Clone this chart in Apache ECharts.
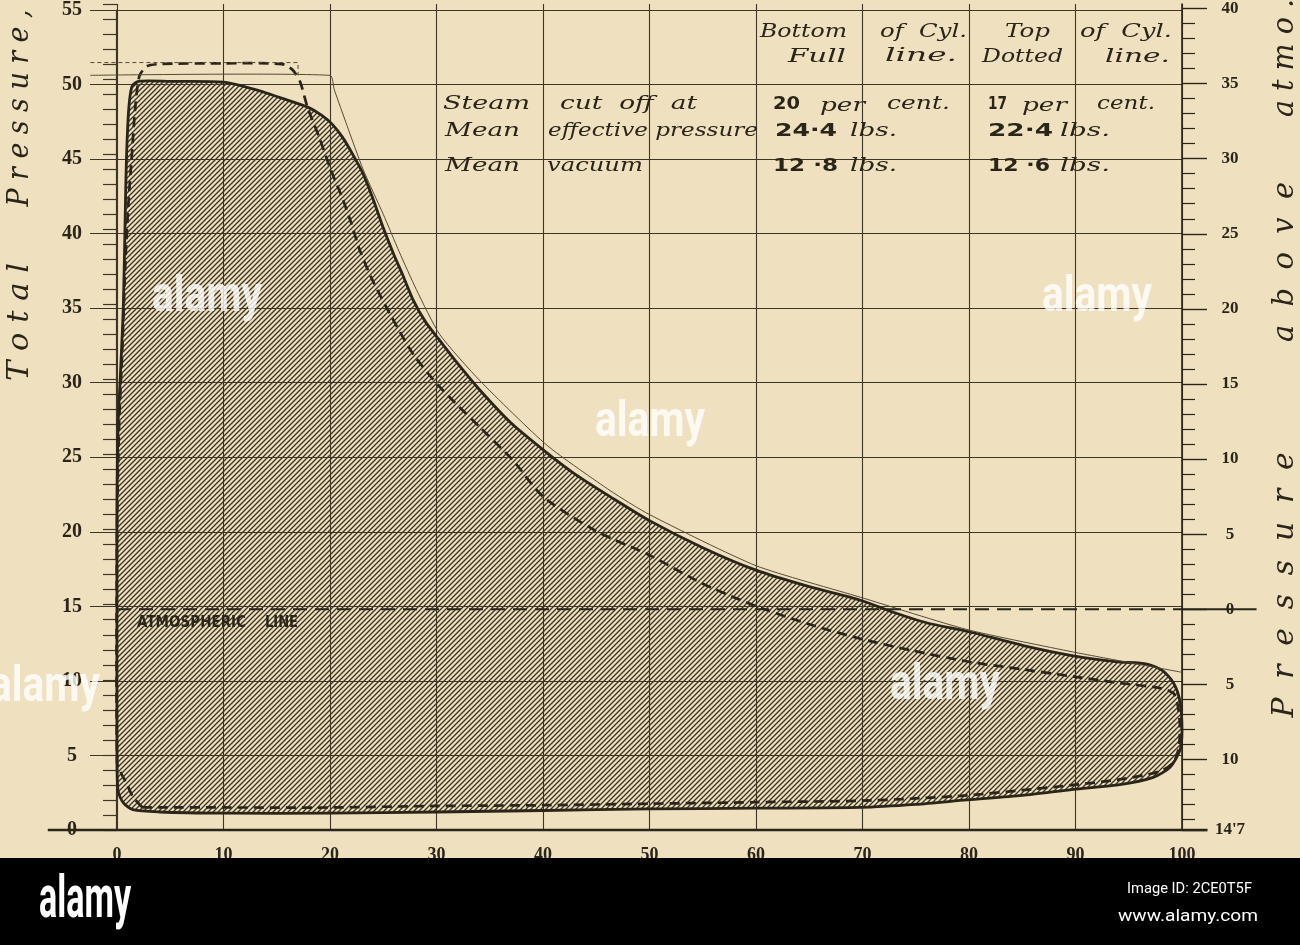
<!DOCTYPE html>
<html>
<head>
<meta charset="utf-8">
<script src="https://cdn.jsdelivr.net/npm/echarts@6/dist/echarts.min.js"></script>
<style>
  html, body { margin: 0; padding: 0; background: #efe1bf; }
  #chart { width: 1300px; height: 945px; }
</style>
</head>
<body>
<div id="chart"></div>
<script>
// Bottom of cylinder, full line (stroke %, total pressure lbs)
const fullX = [0.6,0.1,0,0,0,0.1,0.3,0.6,0.8,0.9,1.1,1.4,2,5,10,13,16,18,19.2,20.2,21.2,22.2,23.1,24,25,26,26.8,27.8,29,30.3,32,34,37,40.4,43,46.3,50,55,60,65,69.8,72.9,76,80,85,89.8,94,96.7,98.2,99.2,99.8,100,99.8,98.9,97.3,94,89.8,85,79.8,75,69.8,60,50,40,30,20,10,4,1.5];
const fullY = [1.8,2.6,5,15,22,27,30,35,42,45,48,49.5,49.85,49.85,49.8,49.3,48.6,48.1,47.6,47,46.1,44.9,43.7,42.1,40.1,38.3,37,35.3,33.8,32.6,31.05,29.35,27.1,25.1,23.7,22.2,20.6,18.8,17.3,16.2,15.3,14.5,13.8,13.2,12.3,11.6,11.2,11.05,10.6,9.8,8.6,6.6,5.3,4.2,3.5,3.0,2.7,2.3,2.0,1.7,1.5,1.45,1.4,1.3,1.2,1.12,1.12,1.2,1.35];

// Top of cylinder, dotted line
const dotX = [2.4,1.5,0.9,0.3,0,0,0.2,0.5,0.8,1.1,1.4,1.7,2.1,2.8,4,10,15.5,16.5,17.2,17.9,19,20,21.2,22,22.8,24,25.6,27.8,30.3,34.1,37.2,40,45,50,55,60,65,70,75,80,85,90,94,97.9,99.2,99.6,99.8,99.7,99.2,97.9,94,89.8,85,79.8,75,70,60,50,40,30,20,10,4];
const dotY = [1.5,2.2,3.1,3.9,4.5,20,27,32,38,42,45,48,50.2,50.85,51.0,51.05,51.0,50.6,49.8,48.1,46.1,44.1,42.0,40.4,38.6,36.6,34.4,31.7,29.5,26.8,24.6,22.2,19.9,18.3,16.4,14.9,13.7,12.7,11.9,11.2,10.7,10.2,9.8,9.45,9.1,8.3,7.0,5.5,4.5,3.9,3.35,3.0,2.65,2.3,2.1,1.95,1.85,1.75,1.65,1.6,1.5,1.5,1.5];

// thin theoretical curve
const theoX = [-2.5,20,20.4,21.6,23.1,25,26.5,28.1,30.3,34.1,40.4,46.3,50,60,69.8,79.8,89.8,100];
const theoY = [50.25,50.25,49.3,46.9,44.0,41.0,38.5,36.0,33.0,29.9,25.6,22.6,21.0,17.6,15.5,13.35,11.85,10.5];

// thin dashed admission line
const admitX = [-2.5, 17, 17];
const admitY = [51.1, 51.1, 50.25];

const atmX = [0, 100];
const atmY = [14.7, 14.7];
const atmExtX = [100, 107];
const baseX = [-6.5, 102.4];
const baseY = [0, 0];

// right scale: pressure above atmosphere, placed on total-pressure scale
const rightTickValues = [0, 4.7, 9.7, 14.7, 19.7, 24.7, 29.7, 34.7, 39.7, 44.7, 49.7, 54.7];
const rightTickLabels = ["14'7", '10', '5', '0', '5', '10', '15', '20', '25', '30', '35', '40'];

const ink = '#2a2419';
const gridInk = '#3d3526';

function zip(xs, ys) { return xs.map((x, i) => [x, ys[i]]); }

function hatch() {
  const c = document.createElement('canvas');
  c.width = 5; c.height = 5;
  const g = c.getContext('2d');
  g.strokeStyle = '#3b3325';
  g.lineWidth = 1.35;
  g.beginPath();
  g.moveTo(0, 5); g.lineTo(5, 0);
  g.moveTo(-1, 1); g.lineTo(1, -1);
  g.moveTo(4, 6); g.lineTo(6, 4);
  g.stroke();
  return c;
}

const measure = document.createElement('canvas').getContext('2d');
function fitText(text, x, y, w, font, extra) {
  measure.font = font;
  const m = measure.measureText(text).width || 1;
  const align = (extra && extra.align) || 'left';
  const el = {
    type: 'text', x: x, y: y, scaleX: w / m, z: 10,
    rotation: (extra && extra.rotation) || 0,
    style: {
      text: text, font: font, fill: (extra && extra.fill) || ink,
      align: align, textAlign: align,
      verticalAlign: 'middle', textVerticalAlign: 'middle'
    }
  };
  if (extra && extra.z) el.z = extra.z;
  return el;
}

// polyline through data points, drawn with the axis scales, not clipped to the grid
function pathSeries(points, style, smooth, z) {
  return {
    type: 'custom', xAxisIndex: 1, yAxisIndex: 1, silent: true, animation: false,
    clip: false, z: z || 4, data: points,
    renderItem: function (params, api) {
      if (params.dataIndex !== 0) return null;
      return {
        type: 'polyline',
        shape: { points: points.map(p => api.coord(p)), smooth: smooth || 0 },
        style: Object.assign({ fill: null, stroke: ink }, style)
      };
    }
  };
}

const script = 'italic 19px "DejaVu Serif"';
const num = 'bold 18px "DejaVu Sans"';
const rightMinor = [];
rightTickValues.slice(1).forEach(v => {
  for (let k = 1; k <= 4; k++) rightMinor.push(+(v - k).toFixed(1));
});

const fullPts = zip(fullX, fullY);
const dotPts = zip(dotX, dotY);
dotPts.push(dotPts[0]);

const chart = echarts.init(document.getElementById('chart'));
const hatchPattern = { image: hatch(), repeat: 'repeat' };

const graphics = [
  // table
  fitText('Bottom', 760, 32, 87, script),
  fitText('Full', 788, 57, 58, script),
  fitText('of  Cyl.', 880, 32, 87, script),
  fitText('line.', 885, 56, 72, script),
  fitText('Top', 1005, 32, 45, script),
  fitText('Dotted', 982, 57, 81, script),
  fitText('of  Cyl.', 1080, 32, 92, script),
  fitText('line.', 1105, 57, 65, script),
  fitText('Steam', 443, 104, 87, script),
  fitText('cut  off  at', 560, 104, 137, script),
  fitText('20', 773, 104, 27, num),
  fitText('per', 820, 106, 45, script),
  fitText('cent.', 887, 104, 63, script),
  fitText('17', 988, 104, 19, num),
  fitText('per', 1022, 106, 45, script),
  fitText('cent.', 1097, 104, 58, script),
  fitText('Mean', 445, 131, 75, script),
  fitText('effective pressure', 548, 131, 210, script),
  fitText('24·4', 775, 131, 62, num),
  fitText('lbs.', 850, 131, 47, script),
  fitText('22·4', 988, 131, 65, num),
  fitText('lbs.', 1060, 131, 50, script),
  fitText('Mean', 445, 166, 75, script),
  fitText('vacuum', 547, 166, 96, script),
  fitText('12 ·8', 773, 166, 65, num),
  fitText('lbs.', 850, 166, 47, script),
  fitText('12 ·6', 988, 166, 62, num),
  fitText('lbs.', 1060, 166, 50, script),
  // atmospheric label
  fitText('ATMOSPHERIC', 137, 623, 109, 'bold 15px "DejaVu Sans"'),
  fitText('LINE', 265, 623, 33, 'bold 15px "DejaVu Sans"'),
  // axis titles
  fitText('T o t a l', 20, 322, 118, 'italic 30px "DejaVu Serif"', { align: 'center', rotation: Math.PI / 2 }),
  fitText('P r e s s u r e ,', 20, 108, 197, 'italic 30px "DejaVu Serif"', { align: 'center', rotation: Math.PI / 2 }),
  fitText('P  r  e  s  s  u  r  e', 1285, 585, 265, 'italic 30px "DejaVu Serif"', { align: 'center', rotation: Math.PI / 2 }),
  fitText('a  b  o  v  e', 1285, 262, 160, 'italic 30px "DejaVu Serif"', { align: 'center', rotation: Math.PI / 2 }),
  fitText('a t m o .', 1285, 58, 118, 'italic 30px "DejaVu Serif"', { align: 'center', rotation: Math.PI / 2 }),
  // watermark overlays
  fitText('alamy', 207, 298, 110, 'bold 50px Roboto', { align: 'center', fill: 'rgba(255,255,255,0.8)', z: 90 }),
  fitText('alamy', 1097, 298, 110, 'bold 50px Roboto', { align: 'center', fill: 'rgba(255,255,255,0.8)', z: 90 }),
  fitText('alamy', 650, 423, 110, 'bold 50px Roboto', { align: 'center', fill: 'rgba(255,255,255,0.8)', z: 90 }),
  fitText('alamy', 45, 688, 110, 'bold 50px Roboto', { align: 'center', fill: 'rgba(255,255,255,0.8)', z: 90 }),
  fitText('alamy', 945, 686, 110, 'bold 50px Roboto', { align: 'center', fill: 'rgba(255,255,255,0.8)', z: 90 }),
  // banner
  { type: 'rect', z: 100, shape: { x: 0, y: 858, width: 1300, height: 87 }, style: { fill: '#000' } },
  fitText('alamy', 85, 902, 92, 'bold 60px Roboto', { align: 'center', fill: '#fff', z: 101 }),
  fitText('Image ID: 2CE0T5F', 1252, 889, 125, '15px Roboto', { align: 'right', fill: '#fff', z: 101 }),
  fitText('www.alamy.com', 1258, 917, 140, '17px Roboto', { align: 'right', fill: '#fff', z: 101 })
];

const axisFont = { color: ink, fontFamily: 'Liberation Serif', fontWeight: 'bold' };

chart.setOption({
  backgroundColor: '#efe1bf',
  animation: false,
  grid: [
    { left: 90, right: 118, top: 2.8, bottom: 115 },
    { left: 117, right: 118, top: 2.8, bottom: 115 }
  ],
  xAxis: [
    { gridIndex: 0, type: 'value', min: -2.5, max: 100, show: false },
    {
      gridIndex: 1, type: 'value', min: 0, max: 100, interval: 10,
      axisLine: { show: false }, axisTick: { show: false },
      axisLabel: Object.assign({ margin: 16, fontSize: 18 }, axisFont),
      splitLine: { show: true, lineStyle: { color: gridInk, width: 1.1 } }
    }
  ],
  yAxis: [
    {
      gridIndex: 0, type: 'value', min: 0, max: 55, interval: 5, position: 'left',
      axisLine: { show: true, lineStyle: { color: gridInk, width: 1.2 } },
      axisTick: { show: false },
      axisLabel: Object.assign({ margin: 18, align: 'center', fontSize: 20 }, axisFont),
      splitLine: { show: true, lineStyle: { color: gridInk, width: 1.1 } }
    },
    {
      gridIndex: 1, type: 'value', min: 0, max: 55, interval: 5, position: 'left',
      axisLine: { show: false },
      axisTick: { show: true, length: 14, lineStyle: { color: gridInk, width: 1.2 } },
      minorTick: { show: true, splitNumber: 5, length: 14, lineStyle: { color: gridInk, width: 1.2 } },
      axisLabel: { show: false },
      splitLine: { show: false }
    },
    {
      gridIndex: 1, type: 'value', min: 0, max: 55, position: 'right',
      axisLine: { show: true, lineStyle: { color: ink, width: 1.6 } },
      axisTick: { show: true, customValues: rightTickValues, length: 25, lineStyle: { color: ink, width: 1.4 } },
      axisLabel: Object.assign({
        show: true, customValues: rightTickValues, margin: 48, align: 'center', fontSize: 17,
        formatter: v => {
          const i = rightTickValues.findIndex(t => Math.abs(t - v) < 1e-6);
          return i >= 0 ? rightTickLabels[i] : '';
        }
      }, axisFont),
      splitLine: { show: false }
    },
    {
      gridIndex: 1, type: 'value', min: 0, max: 55, position: 'right',
      axisLine: { show: false },
      axisTick: { show: true, customValues: rightMinor, length: 13, lineStyle: { color: ink, width: 1.2 } },
      axisLabel: { show: false },
      splitLine: { show: false }
    }
  ],
  graphic: graphics,
  series: [
    {
      type: 'custom', xAxisIndex: 1, yAxisIndex: 1, silent: true, animation: false, z: 3,
      data: fullPts,
      renderItem: function (params, api) {
        if (params.dataIndex !== 0) return null;
        const pts = fullPts.map(p => api.coord(p));
        return {
          type: 'polygon',
          shape: { points: pts, smooth: 0.25 },
          style: { fill: hatchPattern, stroke: ink, lineWidth: 2.8 }
        };
      }
    },
    pathSeries(dotPts, { lineWidth: 2.7, lineDash: [10, 6] }, 0.25),
    pathSeries(zip(theoX, theoY), { lineWidth: 1, stroke: '#564a35' }, 0.2),
    pathSeries(zip(admitX, admitY), { lineWidth: 1, stroke: '#564a35', lineDash: [4, 3] }),
    pathSeries(zip(atmX, atmY), { lineWidth: 1.8, lineDash: [14, 8] }),
    pathSeries(zip(atmExtX, atmY), { lineWidth: 2.2 }),
    pathSeries(zip(baseX, baseY), { lineWidth: 2.4 })
  ]
});
</script>
</body>
</html>
